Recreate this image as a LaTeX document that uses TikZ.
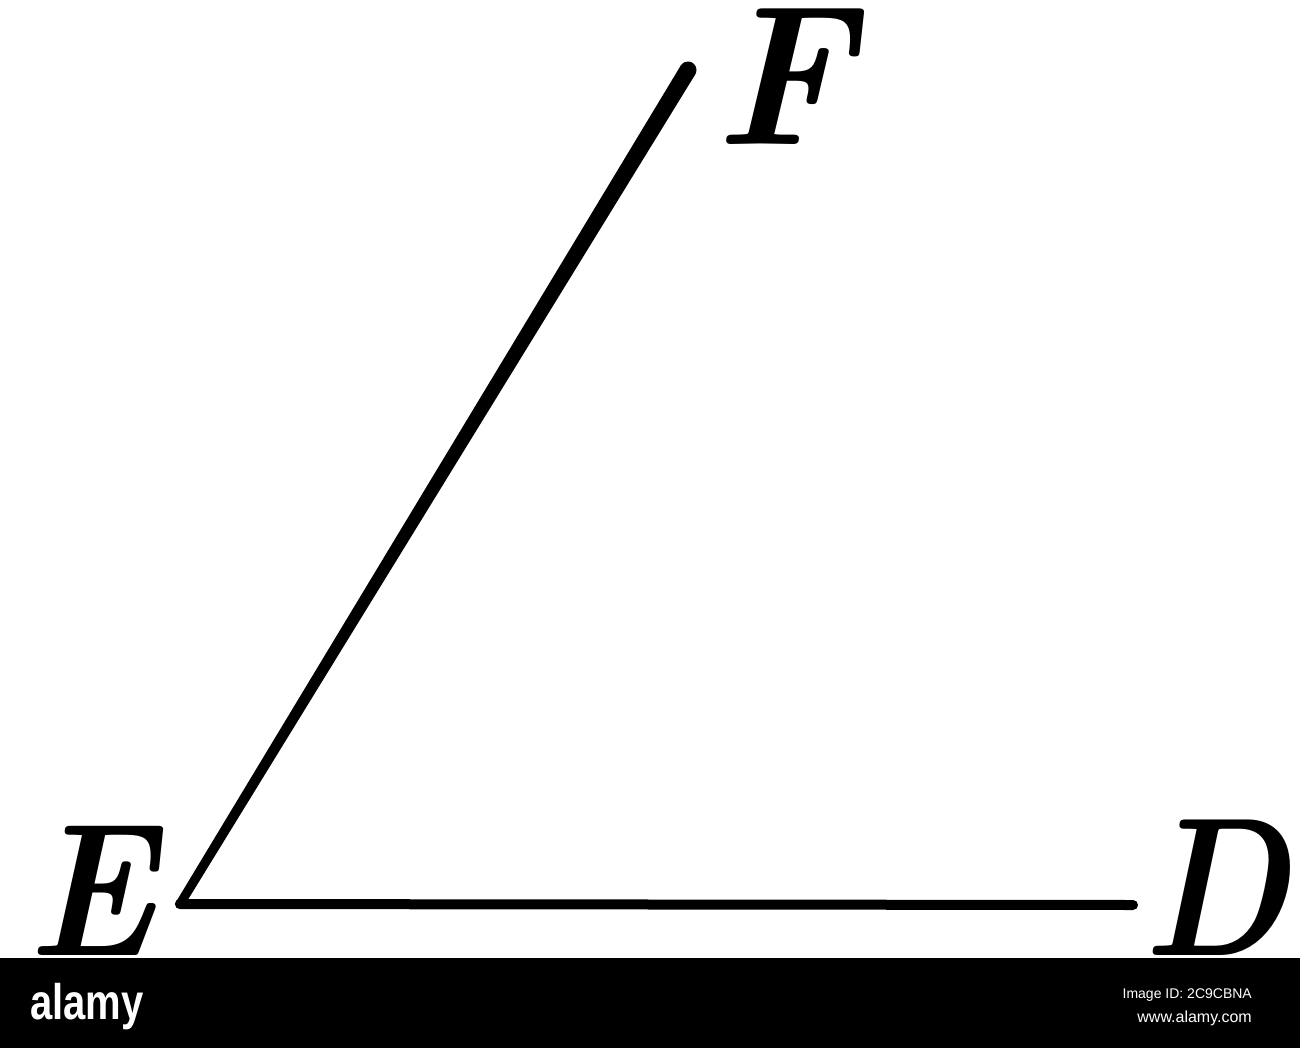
\documentclass[tikz,border=0pt]{standalone}
\usepackage{fontspec}
\newfontfamily\barfont{Liberation Sans}
\usetikzlibrary{calc}
\tikzset{
  letter/.style={inner sep=0pt, anchor=base west, font=\fontsize{190}{190}\selectfont\bfseries\itshape},
  ray/.style={line width=10pt, line cap=round},
}
\begin{document}
\begin{tikzpicture}[x=1pt,y=-1pt]
\useasboundingbox (0,0) rectangle (1300,1048);
\fill[white] (0,0) rectangle (1300,1048);
% geometry
\coordinate (Ev) at (180,904);
\coordinate (Dv) at (1133,905);
\coordinate (Fv) at (688,70);
% rays
\draw[ray] (Ev) -- (Dv);
\fill ($(Ev)!4.5pt!90:(Fv)$) -- ($(Fv)!8.5pt!-90:(Ev)$) -- ($(Fv)!8.5pt!90:(Ev)$) -- ($(Ev)!4.5pt!-90:(Fv)$) -- cycle;
\fill (Fv) circle (8.5pt);
\fill (Ev) circle (5pt);
% labels
\node[letter, xscale=0.89] (E) at (27,955) {E};
\node[letter, xscale=0.88, yscale=1.04] (D) at (1142,955) {D};
\node[letter, yscale=1.05] (F) at (714,145) {F};
% watermark bar
\fill[black] (0,958) rectangle (1300,1048);
\node[inner sep=0pt, anchor=base west, text=white, font=\barfont\bfseries\fontsize{50}{50}\selectfont, xscale=0.8] (logo) at (30,1019) {alamy};
\node[inner sep=0pt, anchor=base east, text=white, font=\barfont\fontsize{14}{14}\selectfont] (id) at (1252,998) {Image ID: 2C9CBNA};
\node[inner sep=0pt, anchor=base east, text=white, font=\barfont\fontsize{16}{16}\selectfont] (www) at (1252,1022) {www.alamy.com};
\end{tikzpicture}
\end{document}
